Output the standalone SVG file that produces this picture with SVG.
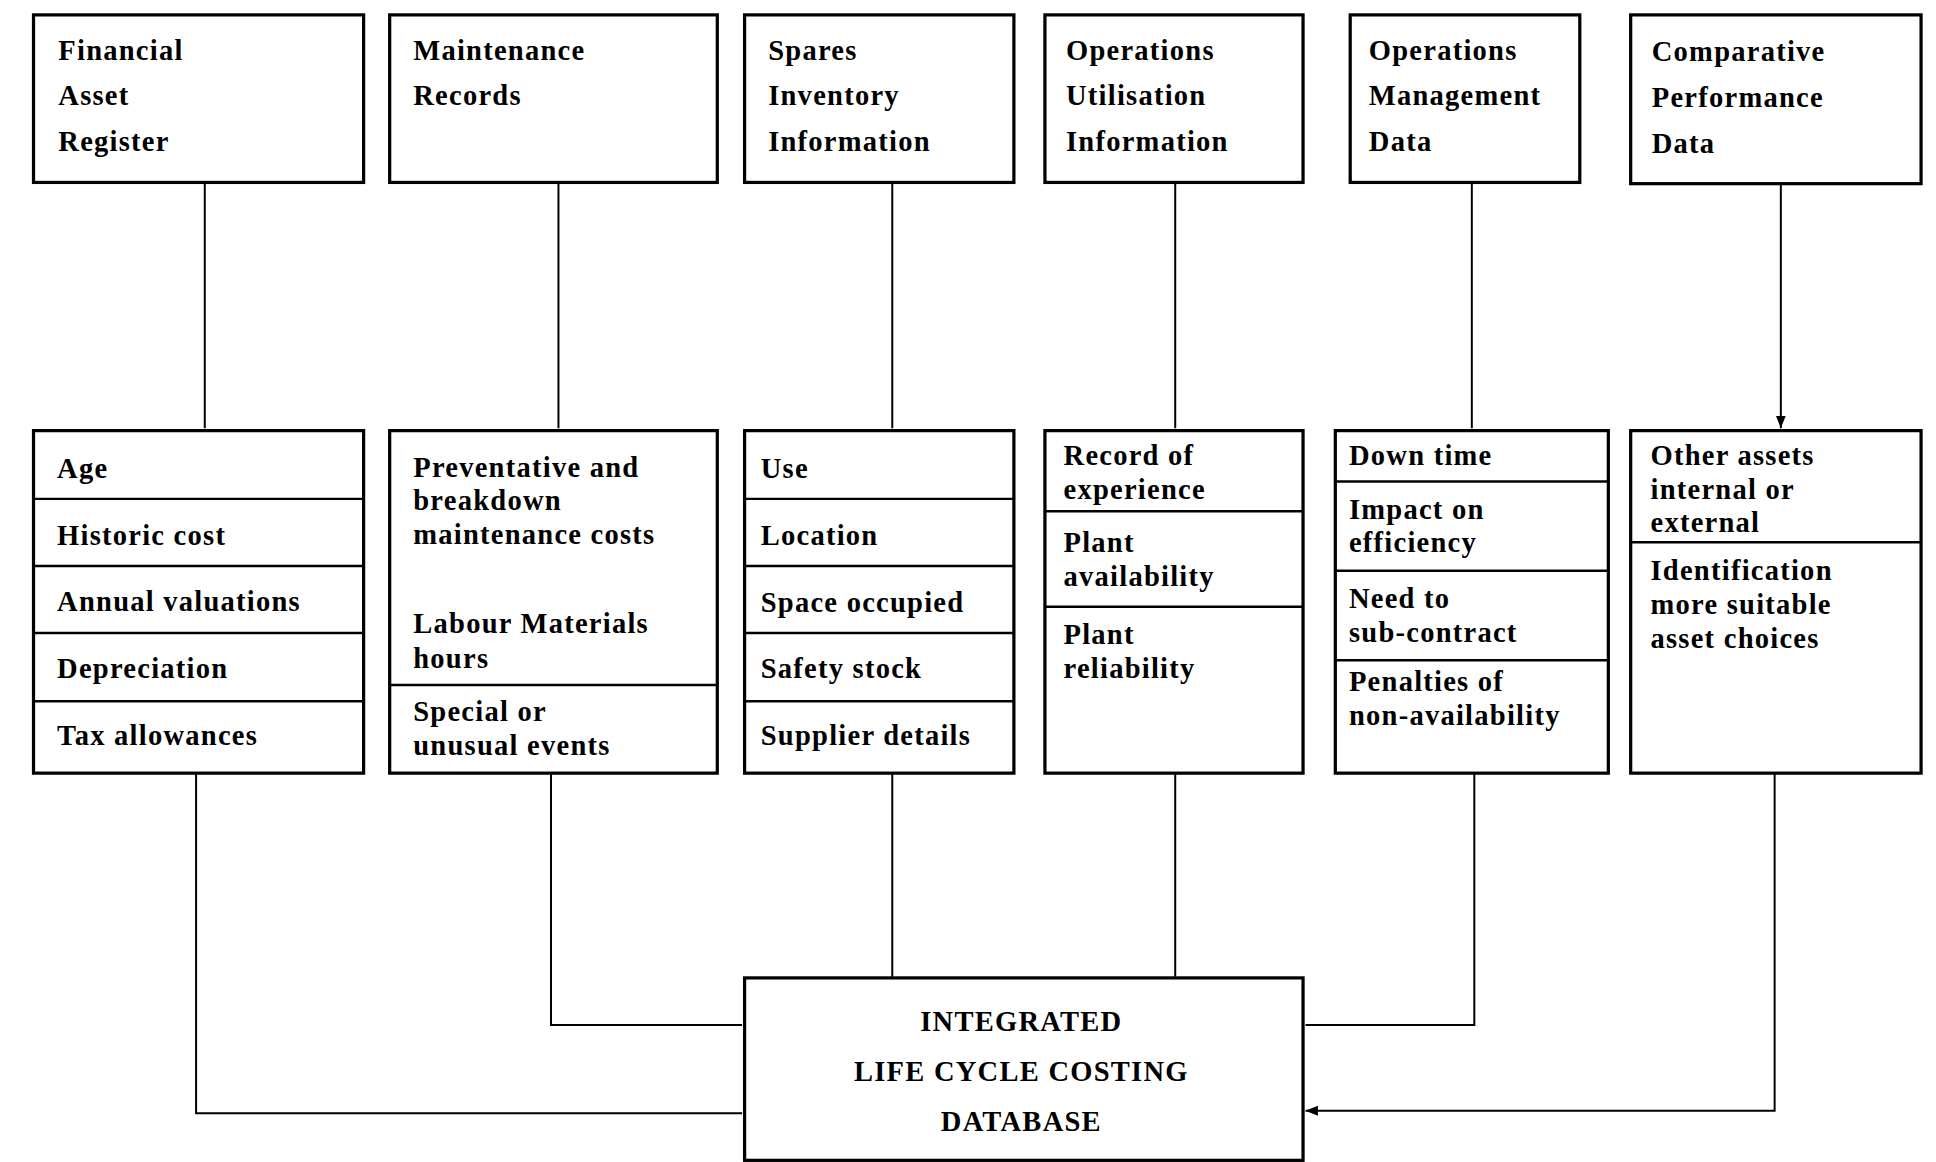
<svg xmlns="http://www.w3.org/2000/svg" width="1936" height="1162" viewBox="0 0 1936 1162">
<style>
.b{fill:#fff;stroke:#000;stroke-width:2.6}
.d{stroke:#000;stroke-width:2}
.t{font-family:"Liberation Serif",serif;font-size:23px;font-weight:bold;letter-spacing:1px;fill:#000}
.c{stroke:#000;stroke-width:1.6;fill:none}
</style>
<defs><marker id="a" viewBox="0 0 10 10" refX="10" refY="5" markerWidth="10" markerHeight="10" markerUnits="userSpaceOnUse" orient="auto"><path d="M0,1L10,5L0,9z" fill="#000"/></marker></defs>
<rect width="1936" height="1162" fill="#fff"/>
<g transform="scale(1.241)">
<g id="connectors">
<path class="c" marker-end="url(#a)" d="M165,148V345M450,148V345M719,148V345M947,148V345M1186,148V345M1435,148V345"/>
<path class="c" marker-end="url(#a)" d="M158,623V897H598M444,623V826H598M719,623V787M947,623V787M1188,623V826H1052M1430,623V895H1052"/>
<path class="c" marker-end="url(#a)" d="M378,447V487M497,447V487"/>
</g>
<g id="top1"><rect class="b" x="27" y="12" width="266" height="135"/><text class="t" x="47" y="48">Financial</text><text class="t" x="47" y="85">Asset</text><text class="t" x="47" y="122">Register</text></g>
<g id="top2"><rect class="b" x="314" y="12" width="264" height="135"/><text class="t" x="333" y="48">Maintenance</text><text class="t" x="333" y="85">Records</text></g>
<g id="top3"><rect class="b" x="600" y="12" width="217" height="135"/><text class="t" x="619" y="48">Spares</text><text class="t" x="619" y="85">Inventory</text><text class="t" x="619" y="122">Information</text></g>
<g id="top4"><rect class="b" x="842" y="12" width="208" height="135"/><text class="t" x="859" y="48">Operations</text><text class="t" x="859" y="85">Utilisation</text><text class="t" x="859" y="122">Information</text></g>
<g id="top5"><rect class="b" x="1088" y="12" width="185" height="135"/><text class="t" x="1103" y="48">Operations</text><text class="t" x="1103" y="85">Management</text><text class="t" x="1103" y="122">Data</text></g>
<g id="top6"><rect class="b" x="1314" y="12" width="234" height="136"/><text class="t" x="1331" y="49">Comparative</text><text class="t" x="1331" y="86">Performance</text><text class="t" x="1331" y="123">Data</text></g>
<g id="bot1"><rect class="b" x="27" y="347" width="266" height="276"/><path class="d" d="M27,402H293M27,456H293M27,510H293M27,565H293"/>
<text class="t" x="46" y="385">Age</text><text class="t" x="46" y="439">Historic cost</text><text class="t" x="46" y="492">Annual valuations</text><text class="t" x="46" y="546">Depreciation</text><text class="t" x="46" y="600">Tax allowances</text></g>
<g id="bot2"><rect class="b" x="314" y="347" width="264" height="276"/><path class="d" d="M314,552H578"/>
<text class="t" x="333" y="384">Preventative and</text><text class="t" x="333" y="411">breakdown</text><text class="t" x="333" y="438">maintenance costs</text><text class="t" x="333" y="510">Labour  Materials</text><text class="t" x="333" y="538">hours</text><text class="t" x="333" y="581">Special or</text><text class="t" x="333" y="608">unusual events</text></g>
<g id="bot3"><rect class="b" x="600" y="347" width="217" height="276"/><path class="d" d="M600,402H817M600,456H817M600,510H817M600,565H817"/>
<text class="t" x="613" y="385">Use</text><text class="t" x="613" y="439">Location</text><text class="t" x="613" y="493">Space occupied</text><text class="t" x="613" y="546">Safety stock</text><text class="t" x="613" y="600">Supplier details</text></g>
<g id="bot4"><rect class="b" x="842" y="347" width="208" height="276"/><path class="d" d="M842,412H1050M842,489H1050"/>
<text class="t" x="857" y="375">Record of</text><text class="t" x="857" y="402">experience</text><text class="t" x="857" y="445">Plant</text><text class="t" x="857" y="472">availability</text><text class="t" x="857" y="519">Plant</text><text class="t" x="857" y="546">reliability</text></g>
<g id="bot5"><rect class="b" x="1076" y="347" width="220" height="276"/><path class="d" d="M1076,388H1296M1076,460H1296M1076,532H1296"/>
<text class="t" x="1087" y="375">Down time</text><text class="t" x="1087" y="418">Impact on</text><text class="t" x="1087" y="445">efficiency</text><text class="t" x="1087" y="490">Need to</text><text class="t" x="1087" y="517">sub-contract</text><text class="t" x="1087" y="557">Penalties of</text><text class="t" x="1087" y="584">non-availability</text></g>
<g id="bot6"><rect class="b" x="1314" y="347" width="234" height="276"/><path class="d" d="M1314,437H1548"/>
<text class="t" x="1330" y="375">Other assets</text><text class="t" x="1330" y="402">internal or</text><text class="t" x="1330" y="429">external</text><text class="t" x="1330" y="467">Identification</text><text class="t" x="1330" y="495">more suitable</text><text class="t" x="1330" y="522">asset choices</text></g>
<g id="db"><rect class="b" x="600" y="788" width="450" height="147"/>
<text class="t" text-anchor="middle" x="823" y="831">INTEGRATED</text><text class="t" text-anchor="middle" x="823" y="871">LIFE CYCLE COSTING</text><text class="t" text-anchor="middle" x="823" y="911">DATABASE</text></g>
</g>
</svg>
